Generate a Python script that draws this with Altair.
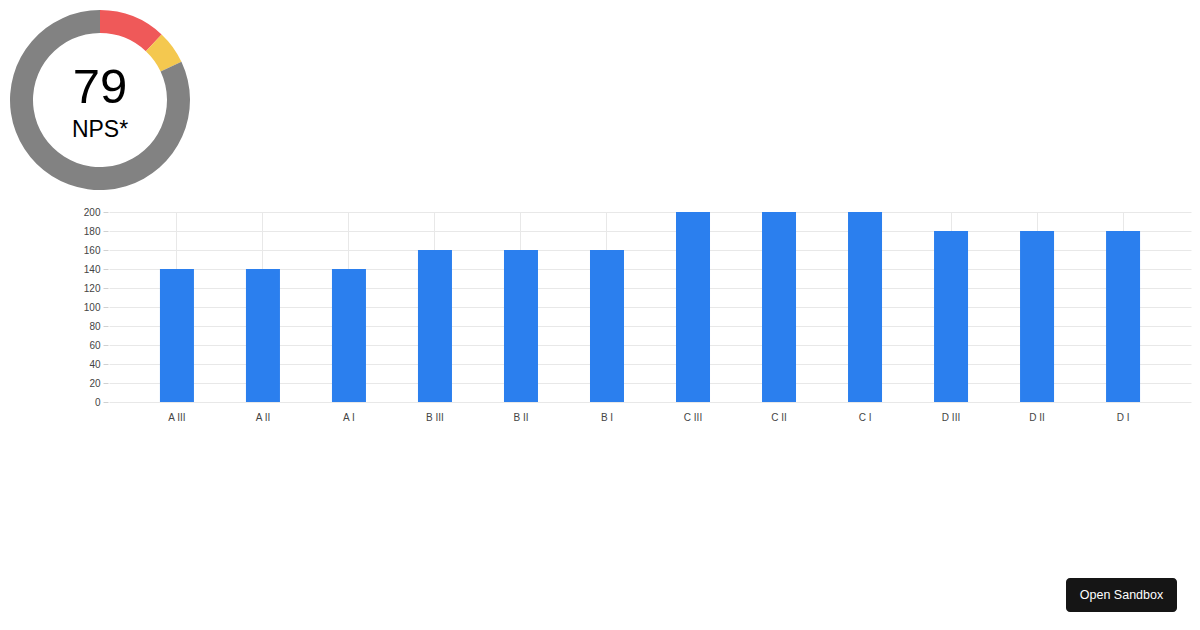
import altair as alt
import pandas as pd

# ---- data ----
categories = ["A III", "A II", "A I", "B III", "B II", "B I",
              "C III", "C II", "C I", "D III", "D II", "D I"]
values = [140, 140, 140, 160, 160, 160, 200, 200, 200, 180, 180, 180]

donut_labels = ["Detractors", "Passives", "Promoters"]
donut_values = [12, 6, 82]
donut_colors = ["#ef5959", "#f4c84f", "#828282"]

nps_score = ["79"]
nps_caption = ["NPS*"]
button_label = ["Open Sandbox"]

FONT = "Liberation Sans"

bars_df = pd.DataFrame({"cat": categories, "val": values})
donut_df = pd.DataFrame({"seg": donut_labels, "v": donut_values,
                         "o": list(range(len(donut_values)))})

bars = alt.Chart(bars_df).mark_bar(width=34, color="#2b7fee").encode(
    x=alt.X("cat:N", sort=categories, title=None,
            scale=alt.Scale(paddingInner=0, paddingOuter=0.29, range=[-1, 1081]),
            axis=alt.Axis(labelAngle=0, ticks=False, tickSize=0, domain=False,
                          grid=True, gridColor="#e8e8e8", bandPosition=0.5,
                          labelPadding=10, labelFontSize=10, labelColor="#444",
                          labelFont=FONT)),
    y=alt.Y("val:Q", title=None,
            scale=alt.Scale(domain=[0, 200], nice=False),
            axis=alt.Axis(values=list(range(0, 201, 20)), domain=False,
                          grid=True, gridColor="#e8e8e8", tickColor="#d0d0d0",
                          tickSize=5, offset=2, labelPadding=3, labelFontSize=10,
                          labelColor="#444", labelFont=FONT)),
)

donut = alt.Chart(donut_df).mark_arc(outerRadius=90, innerRadius=67).encode(
    theta=alt.Theta("v:Q", stack=True),
    order=alt.Order("o:Q"),
    color=alt.Color("seg:N", scale=alt.Scale(domain=donut_labels, range=donut_colors),
                    legend=None),
    x=alt.value(-10),
    y=alt.value(-112),
)

score = alt.Chart(pd.DataFrame({"t": nps_score})).mark_text(
    fontSize=49, font=FONT, color="#000", align="center", baseline="alphabetic"
).encode(text="t:N", x=alt.value(-10), y=alt.value(-109))

caption = alt.Chart(pd.DataFrame({"t": nps_caption})).mark_text(
    fontSize=23, font=FONT, color="#000", align="center", baseline="alphabetic"
).encode(text="t:N", x=alt.value(-10), y=alt.value(-75))

btn_df = pd.DataFrame({"t": button_label})
btn_rect = alt.Chart(btn_df).mark_rect(color="#151515", cornerRadius=4).encode(
    x=alt.value(956), x2=alt.value(1067), y=alt.value(366), y2=alt.value(400)
)
btn_text = alt.Chart(btn_df).mark_text(
    fontSize=12.5, font=FONT, color="#ffffff", align="center", baseline="middle"
).encode(text="t:N", x=alt.value(1011.5), y=alt.value(383))

chart = alt.layer(bars, donut, score, caption, btn_rect, btn_text).properties(
    width=1082, height=190,
    autosize=alt.AutoSizeParams(type="none"),
    padding={"left": 102, "top": 204, "right": 0, "bottom": 210},
    background="white",
).configure_view(stroke=None)

chart.save("out.html", embed_options={"renderer": "svg", "actions": False})
